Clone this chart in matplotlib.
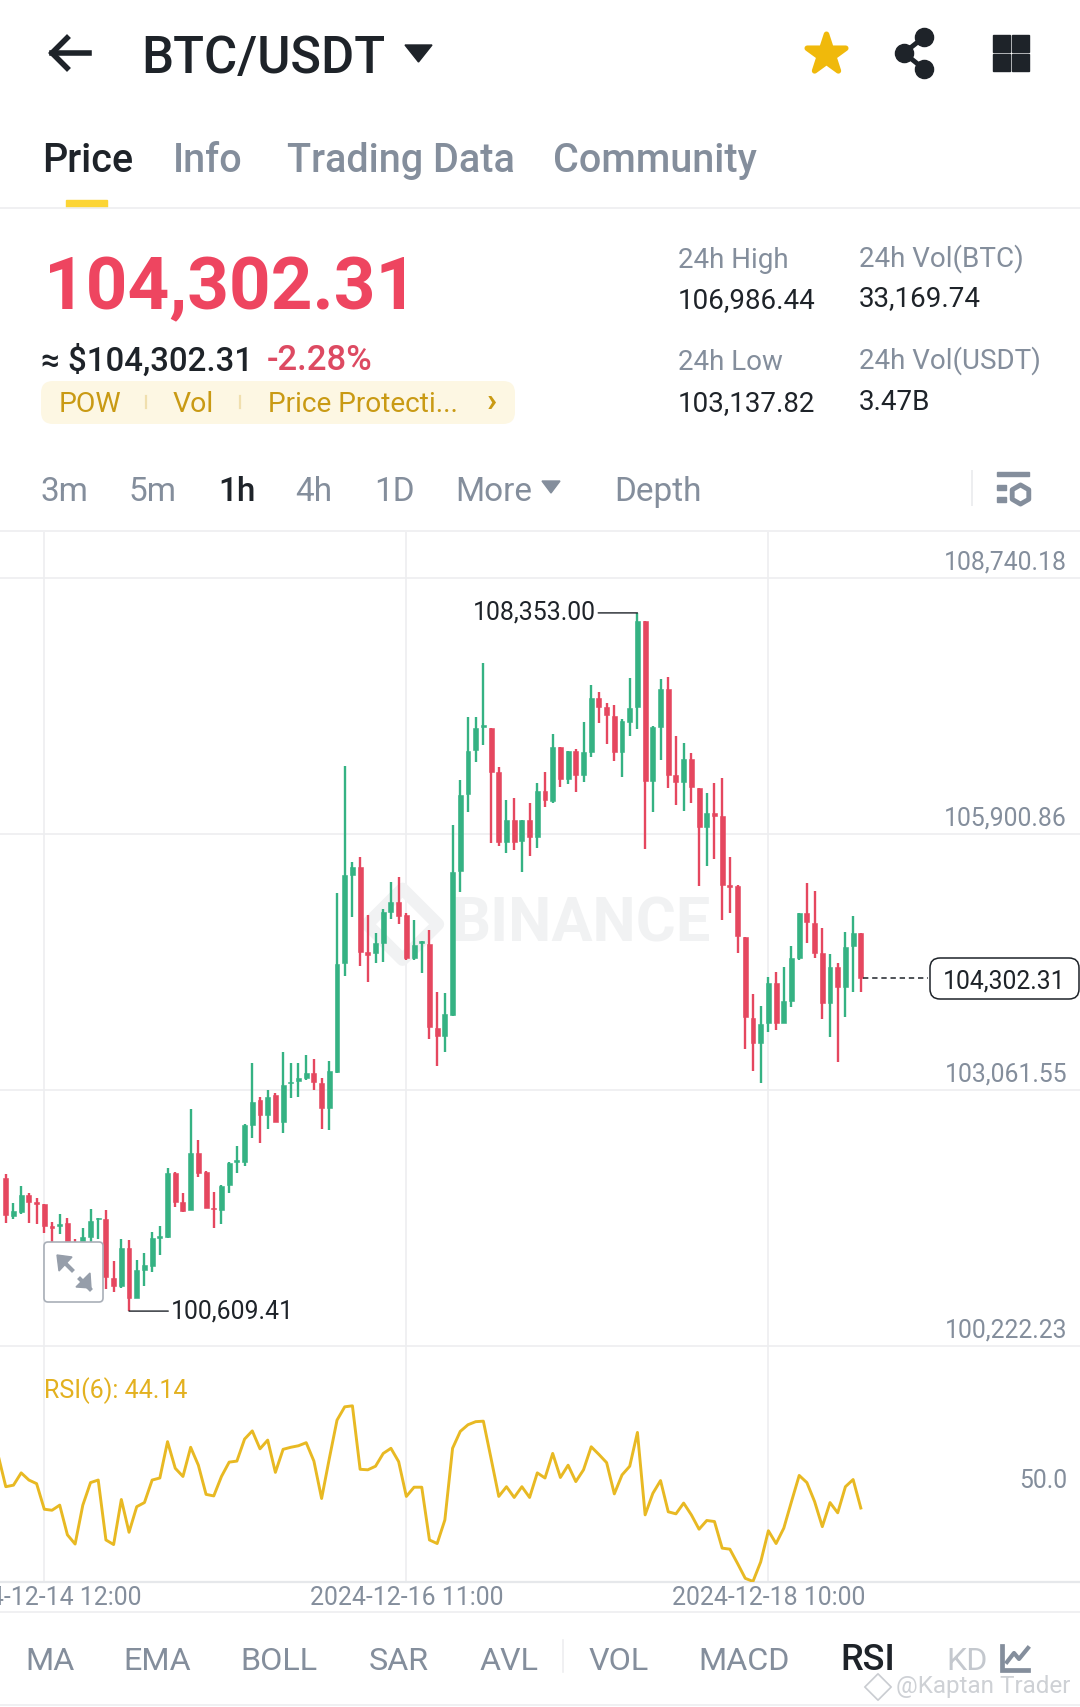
import numpy as np
import matplotlib
matplotlib.use('Agg')
import matplotlib.pyplot as plt
from matplotlib.patches import FancyBboxPatch, Rectangle, Polygon

plt.rcParams['font.family'] = ['Roboto', 'DejaVu Sans']

# hourly candles, hour 0 = 2024-12-14 12:00
first_hour = -5
opens = [102082,101668,101712,101897,101823,101794,101553,101553,101583,101380,101380,101428,101627,101627,100973,100888,101306,100751,101066,101114,
         101424,101435,102145,101823,101731,102359,102156,101757,101731,102008,102263,102267,102673,102950,102784,103006,102710,103135,103165,103191,
         103246,103142,102858,103265,104466,105446,105538,104588,104577,104688,105032,105143,105002,104521,104688,104680,103745,103660,103893,105490,
         106344,106832,107091,107080,106585,105816,106056,105823,106056,105864,106378,106271,106869,106507,106825,106555,106807,107413,107313,107213,
         106814,107147,107306,108263,106489,107084,107509,106555,106481,106733,106415,105982,106130,106100,105335,105324,104762,103863,103579,103801,
         104252,103808,104048,104529,105028,104917,104577,104022,104429,104207,104658,104806]
highs = [102130,101812,101997,101916,101860,101794,101594,101687,101639,101406,101528,101738,101646,101731,101169,101406,101398,101176,101250,101491,
         101553,102193,102156,101923,102847,102507,102164,101934,102008,102263,102444,102685,103357,102980,103061,103032,103486,103364,103357,103449,
         103401,103191,103383,105250,106655,105594,105642,105002,104806,105065,105372,105420,105021,104947,104717,104836,104144,104133,106001,106500,
         107202,107202,107794,107080,106648,106278,106304,106056,106248,106470,106592,107006,106869,106821,106843,107147,107553,107472,107350,107331,
         107176,107627,108353,108263,107102,107620,107638,106988,106906,106803,106415,106352,106463,106526,105649,105335,104762,104122,103996,104318,
         104374,104429,104658,105028,105353,105272,104854,104570,104466,104817,104995,104806]
lows = [101583,101627,101687,101590,101576,101472,101361,101461,101324,101213,101361,101380,101406,100855,100825,100862,100609.41,100751,100888,101040,
        101232,101417,101768,101712,101731,102101,101757,101528,101576,101916,102145,102223,102525,102470,102625,102703,102581,102976,102980,103172,
        103061,102629,102617,103246,104326,104984,104440,104263,104473,104484,104958,104902,104503,104503,104355,103627,103331,103486,103882,105254,
        106148,106703,106888,105797,105768,105694,105723,105483,105660,105749,106197,106241,106418,106455,106370,106481,106758,107136,106899,106714,
        106537,106988,107062,105731,106148,106722,106415,106222,106160,106241,105324,105550,105620,104947,105021,104585,103516,103276,103143,103701,
        103727,103808,103985,104503,104688,104529,103849,103645,103375,103875,104152,104152]
closes = [101676,101724,101897,101823,101798,101553,101535,101576,101361,101324,101435,101613,101646,100992,100888,101306,100751,101066,101121,101417,
          101443,102138,101823,101724,102359,102145,101757,101738,102001,102256,102286,102674,102932,102784,102987,102710,103117,103154,103191,103246,
          103154,102858,103272,104459,105446,105538,104588,104558,104688,105039,105143,104995,104521,104669,104710,103764,103660,103904,105483,106333,
          106825,107073,107110,106592,105808,106056,105816,106056,105864,106378,106278,106869,106507,106821,106555,106807,107413,107313,107221,106814,
          107154,107302,108263,106489,107084,107509,106555,106481,106733,106418,105982,106130,106104,105335,105317,104769,103875,103579,103793,104252,
          103808,104048,104529,105028,104928,104577,104022,104429,104207,104651,104806,104302.31]

# RSI(6), starts one hour before the first candle
rsi_first_hour = -6
rsi = [54.5,48.3,48.6,51.0,49.6,48.9,43.9,43.7,44.7,38.9,37.1,44.7,49.1,49.6,37.9,37.0,45.8,39.4,44.4,45.2,
       49.6,50.0,57.1,51.9,50.3,56.0,52.5,46.8,46.5,50.3,53.1,53.3,57.6,59.2,55.7,57.4,51.1,55.6,56.0,56.3,
       56.9,53.3,46.0,53.8,61.3,63.9,64.1,51.7,51.6,52.3,54.8,55.8,53.2,46.4,48.2,48.2,37.9,37.2,41.8,55.8,
       59.1,60.4,61.0,61.1,53.8,46.4,48.3,46.2,48.3,46.2,51.0,50.0,54.8,50.1,52.5,49.3,51.6,56.1,54.6,53.0,
       46.9,50.6,52.3,58.9,42.8,47.0,49.5,43.4,43.0,45.1,42.8,40.0,41.7,41.5,36.3,36.1,33.3,30.4,29.8,33.6,
       39.7,37.2,40.2,45.4,50.5,49.1,45.4,40.5,45.2,43.2,48.3,49.7,44.14]

price_ticks = [108740.18, 105900.86, 103061.55, 100222.23]
time_ticks = [0, 47, 94]
time_labels = ['2024-12-14 12:00', '2024-12-16 11:00', '2024-12-18 10:00']
last_price = 104302.31
high_price = 108353.00
low_price = 100609.41

W, H = 1080, 1707
GREEN = '#35B283'
RED = '#E5475F'
GRID = '#EDEEF0'
DARK = '#1E2329'
GREY = '#848E9C'
GOLD = '#C99A14'

fig = plt.figure(figsize=(W / 100, H / 100), dpi=100, facecolor='white')


def axes_px(x0, y0, x1, y1):
    return fig.add_axes([x0 / W, 1 - y1 / H, (x1 - x0) / W, (y1 - y0) / H])


# price panel
t_left, t_right = -44.3 / 7.703, (W - 44.3) / 7.703
ax = axes_px(0, 532, W, 1347)
ax.set_xlim(t_left, t_right)
ax.set_ylim(105900.86 - 11.091 * (1347 - 834), 105900.86 - 11.091 * (532 - 834))
ax.axis('off')
for p in price_ticks:
    ax.axhline(p, color=GRID, lw=1.2, zorder=1)
    ax.text(0.988, p + 42, f'{p:,.2f}', transform=ax.get_yaxis_transform(), ha='right', va='bottom',
            fontsize=17.8, color=GREY, zorder=2)
for t in time_ticks:
    ax.axvline(t, color=GRID, lw=1.2, zorder=1)

ax.text(69.7, 104900, 'BINANCE', ha='center', va='center', fontsize=44, fontweight='bold', color='#F1F2F3', zorder=1)
ax.scatter([46.5], [104900], marker='D', s=1300, facecolor='none', edgecolor='#F1F2F3', linewidth=9, zorder=1)

hours = np.arange(first_hour, first_hour + len(opens))
colors = [RED if c < o else GREEN for o, c in zip(opens, closes)]
ax.vlines(hours, lows, highs, colors=colors, lw=1.7, zorder=3)
ax.bar(hours, np.abs(np.array(closes) - np.array(opens)), bottom=np.minimum(opens, closes), width=0.64,
       color=colors, edgecolor=colors, linewidth=0.4, zorder=4)

ax.annotate(f'{high_price:,.2f}', xy=(77, high_price), xytext=(-42, 0), textcoords='offset pixels', ha='right',
            va='center', fontsize=17.9, color=DARK, zorder=6,
            arrowprops=dict(arrowstyle='-', color=DARK, lw=1, shrinkA=0, shrinkB=0))
ax.annotate(f'{low_price:,.2f}', xy=(11, low_price), xytext=(42, 0), textcoords='offset pixels', ha='left',
            va='center', fontsize=17.9, color=DARK, zorder=6,
            arrowprops=dict(arrowstyle='-', color=DARK, lw=1, shrinkA=0, shrinkB=0))
ax.plot([106.3, 114.7], [last_price, last_price], color=DARK, lw=1.1, ls=(0, (3.5, 2.5)), zorder=6)

# rsi panel
ax2 = axes_px(0, 1347, W, 1582)
ax2.set_xlim(t_left, t_right)
ax2.set_ylim(50 - (1582 - 1478) / 5.12, 50 - (1347 - 1478) / 5.12)
for s in ax2.spines.values():
    s.set_visible(False)
ax2.spines['bottom'].set_visible(True)
ax2.spines['bottom'].set_color('#E6E8EB')
ax2.spines['bottom'].set_linewidth(1.6)
for t in time_ticks:
    ax2.axvline(t, color=GRID, lw=1.2, zorder=1)
ax2.plot(np.arange(rsi_first_hour, rsi_first_hour + len(rsi)), rsi, color='#E8B923', lw=2.1, zorder=3)
ax2.set_yticks([])
ax2.set_xticks(time_ticks)
ax2.set_xticklabels(time_labels, fontsize=17.9, color=GREY)
ax2.tick_params(axis='x', length=0, pad=3)
ax2.text(0.988, 49.4, '50.0', transform=ax2.get_yaxis_transform(), ha='right', va='center', fontsize=17.8, color=GREY)
ax2.text(0, 50 - (1391 - 1478) / 5.12, 'RSI(6): 44.14', ha='left', va='center', fontsize=18, color='#E3B120')

# app chrome, drawn in pixel coordinates
ui = fig.add_axes([0, 0, 1, 1], zorder=5)
ui.set_xlim(0, W)
ui.set_ylim(H, 0)
ui.axis('off')
ui.patch.set_alpha(0)


def txt(x, y, s, size, color=GREY, weight='normal', ha='left', **kw):
    return ui.text(x, y, s, fontsize=size, color=color, fontweight=weight, ha=ha, va='center', **kw)


def hline(y, color='#EDEEF0', lw=1.2):
    ui.plot([0, W], [y, y], color=color, lw=lw, solid_capstyle='butt')


# header
ui.plot([52, 89], [53, 53], color=DARK, lw=4)
ui.plot([67, 52, 67], [38, 53, 68], color=DARK, lw=4, solid_joinstyle='miter')
txt(141, 59, 'BTC/USDT', 36.5, DARK, 'medium')
ui.add_patch(Polygon([[405, 45], [432, 45], [418.5, 62]], closed=True, color=DARK))
ui.scatter([826], [54], marker='*', s=850, color='#F0B90B', edgecolor='#F0B90B', linewidths=4)
ui.plot([924, 904, 924], [37, 53, 69], color=DARK, lw=3.5)
ui.scatter([924, 904, 924], [37, 53, 69], s=170, color=DARK)
for gx, gy in [(993, 35), (1012, 35), (993, 54), (1012, 54)]:
    ui.add_patch(Rectangle((gx, gy), 17, 17, color=DARK))

# tabs
txt(42, 161, 'Price', 28.5, DARK, 'medium')
for x, s in [(173, 'Info'), (287, 'Trading Data'), (553, 'Community')]:
    txt(x, 161, s, 28.5, GREY, 'medium')
ui.add_patch(Rectangle((66, 200), 41, 7, color='#FCD535'))
hline(208)

# ticker block
txt(44, 290, '104,302.31', 52.5, '#EE4560', 'bold')
txt(41, 361, '≈ $104,302.31', 23.8, DARK, 'medium')
txt(267, 361, '-2.28%', 25, '#DD4A62', 'medium')
ui.add_patch(FancyBboxPatch((41, 381), 474, 43, boxstyle='round,pad=0,rounding_size=12',
                            facecolor='#FDF7E3', edgecolor='none'))
txt(59, 404, 'POW', 20.5, GOLD)
txt(173, 404, 'Vol', 20.5, GOLD)
txt(268, 404, 'Price Protecti...', 20.2, GOLD)
txt(492, 402, '›', 24, GOLD, 'bold', ha='center')
for x in [146, 240]:
    ui.plot([x, x], [396, 408], color='#F0DFAE', lw=1.6)

for x, y, s in [(678, 261, '24h High'), (678, 363, '24h Low'), (859, 259, '24h Vol(BTC)'), (859, 361, '24h Vol(USDT)')]:
    txt(x, y, s, 20, GREY)
for x, y, s in [(678, 301, '106,986.44'), (678, 404, '103,137.82'), (859, 299, '33,169.74'), (859, 402, '3.47B')]:
    txt(x, y, s, 20, DARK)

# interval row
for x, s in [(41, '3m'), (129, '5m'), (295, '4h'), (374, '1D'), (455, 'More'), (614, 'Depth')]:
    txt(x, 492, s, 24, GREY)
txt(218, 492, '1h', 24, DARK, 'medium')
ui.add_patch(Polygon([[542, 481], [560, 481], [551, 493]], closed=True, color=GREY))
ui.plot([972, 972], [471, 505], color='#EDEEF0', lw=1.4)
ui.add_patch(Rectangle((997, 472), 32, 4, color=GREY))
ui.add_patch(Rectangle((997, 485), 9, 5, color=GREY))
ui.add_patch(Rectangle((997, 497), 9, 5, color=GREY))
ui.scatter([1020], [494], marker='h', s=190, facecolor='white', edgecolor=GREY, linewidths=3.5)
hline(531)

# expand button
ui.add_patch(FancyBboxPatch((44, 1242), 59, 60, boxstyle='round,pad=0,rounding_size=4', facecolor='white',
                            edgecolor='#A9AFB8', linewidth=1.2))
ui.plot([62, 72], [1260, 1270], color='#969EAA', lw=3)
ui.plot([80, 90], [1279, 1289], color='#969EAA', lw=3)
ui.add_patch(Polygon([[57, 1255], [72, 1257], [59, 1271]], closed=True, color='#969EAA'))
ui.add_patch(Polygon([[91, 1288], [76, 1287], [90, 1273]], closed=True, color='#969EAA'))

# current price tag
ui.add_patch(FancyBboxPatch((930, 958), 149, 41, boxstyle='round,pad=0,rounding_size=10', facecolor='white',
                            edgecolor=DARK, linewidth=1.1))
txt(1004.5, 981, f'{last_price:,.2f}', 17.8, DARK, ha='center')

# bottom indicator row
hline(1612)
for x, s in [(25, 'MA'), (123, 'EMA'), (240, 'BOLL'), (369, 'SAR'), (480, 'AVL'), (589, 'VOL'), (698, 'MACD')]:
    txt(x, 1661, s, 23.3, GREY)
txt(840, 1661, 'RSI', 26, DARK, 'medium')
txt(946, 1661, 'KD', 23.3, '#C4C8CE')
ui.plot([563, 563], [1640, 1672], color='#EDEEF0', lw=1.2)
ui.plot([1002, 1002, 1028], [1646, 1670, 1670], color=GREY, lw=3.4, solid_joinstyle='miter')
ui.plot([1007, 1014, 1019, 1028], [1662, 1653, 1659, 1648], color=GREY, lw=3)
hline(1705)

# watermark
txt(896, 1687, '@Kaptan Trader', 17.5, '#C9CCD1', alpha=0.9)
ui.scatter([878], [1687], marker='D', s=180, facecolor='none', edgecolor='#C9CCD1', linewidths=1.2)

fig.savefig('out.png', dpi=100, facecolor='white')
